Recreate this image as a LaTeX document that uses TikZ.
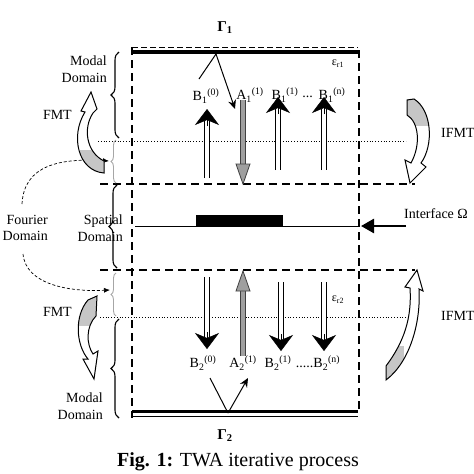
\documentclass[tikz,border=0pt]{standalone}
\usepackage{fontspec}
\setmainfont{Liberation Serif}
\usetikzlibrary{arrows.meta,decorations.pathreplacing,calc}
\begin{document}
\begin{tikzpicture}[x=1pt,y=-1pt,
  lbl/.style={font=\fontsize{14}{16.5}\selectfont, inner sep=0pt},
  sym/.style={font=\fontsize{14}{16}\selectfont, inner sep=0pt},
  eps/.style={font=\fontsize{12}{14}\selectfont, inner sep=0pt},
  dside/.style={align=right, anchor=east},
  bound/.style={dash pattern=on 8pt off 5pt, line width=1.1pt},
  dotl/.style={dash pattern=on 1pt off 1.8pt, line width=0.9pt},
  dbl/.style={double, double distance=3.6pt, line width=1pt},
  bighead/.style={-{Stealth[length=16pt,width=24pt,inset=5pt]}, line width=0.5pt},
  grayshaft/.style={draw=black!75, double=gray!75, double distance=4.5pt, line width=0.8pt},
  grayhead/.style={draw=black!75, fill=gray!75, line width=0.8pt},
  brc/.style={decorate, decoration={brace, amplitude=8pt}, line width=1.1pt},
  gbrc/.style={decorate, decoration={brace, amplitude=5pt}, draw=gray!70, line width=0.9pt},
  fdash/.style={dash pattern=on 3pt off 2pt, line width=0.7pt, -{Latex[length=6pt,width=5pt]}},
  gam/.style={line width=1pt},
  gamarr/.style={line width=1pt, -{Stealth[length=9pt,width=8pt]}}
]
\useasboundingbox (0,0) rectangle (474,474);

% ---------- frame ----------
\draw[line width=4pt] (132,52) -- (358,52);
\draw[dash pattern=on 6pt off 3pt, line width=0.8pt] (132,47.5) -- (358,47.5);
\draw[line width=3.5pt] (132,411.5) -- (358,411.5);
\draw[line width=0.8pt] (132,416.5) -- (358,416.5);
\draw[bound] (132,47) -- (132,418);
\draw[bound] (359,50) -- (359,410);
\draw[bound] (100,184) -- (415,184);
\draw[bound] (100,270) -- (415,270);
\draw[dotl] (98,141) -- (406,141);
\draw[dotl] (100,317) -- (406,317);

% interface
\draw[line width=0.8pt] (135,226) -- (359,226);
\fill (196,215) rectangle (283,226.4);
\coordinate (ifs) at (406,226);
\coordinate (ift) at (361,226);
\draw[line width=2.6pt, -{Triangle[length=13pt,width=14pt]}] (ifs) -- (ift);

% ---------- labels ----------
\node[font=\bfseries\fontsize{15}{17}\selectfont, inner sep=0pt] (g1) at (225,28) {Γ\textsubscript{1}};
\node[font=\bfseries\fontsize{15}{17}\selectfont, inner sep=0pt] (g2) at (225,436) {Γ\textsubscript{2}};
\node[eps] (e1) at (338,64) {ε\textsubscript{r1}};
\node[eps] (e2) at (338,300) {ε\textsubscript{r2}};

\node[lbl, dside] (md1) at (107,69) {Modal\\Domain};
\node[lbl, dside] (fmt1) at (72,115) {FMT};
\node[lbl, dside] (four) at (48,228) {Fourier\\Domain};
\node[lbl, dside] (spat) at (123,228) {Spatial\\Domain};
\node[lbl, dside] (fmt2) at (72,312) {FMT};
\node[lbl, dside] (md2) at (103,406) {Modal\\Domain};
\node[lbl, anchor=west] (ifmt1) at (441,133) {IFMT};
\node[lbl, anchor=west] (ifmt2) at (441,316) {IFMT};
\node[lbl, anchor=west] (intf) at (404,214) {Interface Ω};

\node[sym] (lb10) at (206,96) {B\textsubscript{1}\textsuperscript{(0)}};
\node[sym] (la11) at (250,95) {A\textsubscript{1}\textsuperscript{(1)}};
\node[sym] (lb11) at (285,95) {B\textsubscript{1}\textsuperscript{(1)}};
\node[sym] (ldot) at (307.5,97) {...};
\node[sym] (lb1n) at (332,95) {B\textsubscript{1}\textsuperscript{(n)}};

\node[sym] (lb20) at (203,363) {B\textsubscript{2}\textsuperscript{(0)}};
\node[sym] (la21) at (243,363) {A\textsubscript{2}\textsuperscript{(1)}};
\node[sym] (lb21) at (278,363) {B\textsubscript{2}\textsuperscript{(1)}};
\node[sym] (lb2n) at (318,363) {.....B\textsubscript{2}\textsuperscript{(n)}};

\node[font=\fontsize{20}{24}\selectfont, inner sep=0pt] (cap) at (238,462) {\textbf{Fig. 1:} TWA iterative process};

% ---------- braces ----------
\draw[brc] (119,138) -- (119,52);
\draw[gbrc] (116,183) -- (116,140);
\draw[brc] (117,268) -- (117,185);
\draw[gbrc] (116,316) -- (116,273);
\draw[brc] (119,418) -- (119,319);

% ---------- Fourier dashed arrows ----------
\coordinate (fa1) at (22,204);
\coordinate (fb1) at (109,161);
\coordinate (fa2) at (23,254);
\coordinate (fb2) at (110,290);
\draw[fdash] (fa1) .. controls (24,165) and (60,158) .. (fb1);
\draw[fdash] (fa2) .. controls (26,285) and (70,292) .. (fb2);

% ---------- curved block arrows ----------
\def\pFMTa{(104,173) .. controls (78,171) and (70,136) .. (85,112) -- (81,111) -- (91,92) -- (97,109) -- (93,113) .. controls (83,128) and (86,152) .. (104,161) -- cycle}
\def\pFMTb{(88,300) -- (97,296) -- (96,316) .. controls (86,326) and (86,344) .. (93,354) -- (98,351) -- (94,379) -- (83,359) -- (88,359) .. controls (76,345) and (74,316) .. (88,300) -- cycle}
\def\pIFMa{(407,100) -- (414,99) .. controls (432,110) and (434,145) .. (421,163) -- (426,167) -- (410,183) -- (405,160) -- (411,163) .. controls (421,145) and (419,122) .. (407,115) -- cycle}
\def\pIFMb{(386,380) .. controls (410,362) and (421,322) .. (419,289) -- (423,291) -- (417,270) -- (405,287) -- (410,288) .. controls (412,318) and (404,342) .. (386,366) -- cycle}

\fill[white] \pFMTa;
\begin{scope}\clip \pFMTa; \fill[gray!45] (80,150) rectangle (110,180);\end{scope}
\draw[line width=1pt] \pFMTa;

\fill[white] \pFMTb;
\begin{scope}\clip \pFMTb; \fill[gray!45] (70,290) rectangle (105,326);\end{scope}
\draw[line width=1pt] \pFMTb;

\fill[white] \pIFMa;
\begin{scope}\clip \pIFMa; \fill[gray!45] (400,95) rectangle (440,126);\end{scope}
\draw[line width=1pt] \pIFMa;

\fill[white] \pIFMb;
\begin{scope}\clip \pIFMb; \fill[gray!45] (380,346) rectangle (404,385);\end{scope}
\draw[line width=1pt] \pIFMb;

% ---------- vertical wave arrows, upper half ----------
\coordinate (b10s) at (207,178); \coordinate (b10t) at (207,109);
\draw[dbl] (b10s) -- ($(b10t)+(0,12)$);
\draw[bighead] ($(b10t)+(0,17)$) -- (b10t);

\coordinate (b11s) at (278,170); \coordinate (b11t) at (278,97);
\draw[dbl] (b11s) -- ($(b11t)+(0,12)$);
\draw[bighead] ($(b11t)+(0,17)$) -- (b11t);

\coordinate (b1ns) at (324,170); \coordinate (b1nt) at (324,97);
\draw[dbl] (b1ns) -- ($(b1nt)+(0,12)$);
\draw[bighead] ($(b1nt)+(0,17)$) -- (b1nt);

\coordinate (a11s) at (243,100); \coordinate (a11t) at (243,184);
\draw[grayshaft] (a11s) -- ($(a11t)+(0,-18)$);
\filldraw[grayhead] ($(a11t)+(-7,-20)$) -- ($(a11t)+(7,-20)$) -- (a11t) -- cycle;

% ---------- vertical wave arrows, lower half ----------
\coordinate (b20s) at (207,277); \coordinate (b20t) at (207,349);
\draw[dbl] (b20s) -- ($(b20t)+(0,-12)$);
\draw[bighead] ($(b20t)+(0,-17)$) -- (b20t);

\coordinate (b21s) at (281,282); \coordinate (b21t) at (281,351);
\draw[dbl] (b21s) -- ($(b21t)+(0,-12)$);
\draw[bighead] ($(b21t)+(0,-17)$) -- (b21t);

\coordinate (b2ns) at (324,282); \coordinate (b2nt) at (324,351);
\draw[dbl] (b2ns) -- ($(b2nt)+(0,-12)$);
\draw[bighead] ($(b2nt)+(0,-17)$) -- (b2nt);

\coordinate (a21s) at (243,356); \coordinate (a21t) at (243,271);
\draw[grayshaft] (a21s) -- ($(a21t)+(0,18)$);
\filldraw[grayhead] ($(a21t)+(-7,20)$) -- ($(a21t)+(7,20)$) -- (a21t) -- cycle;

% ---------- reflections at the walls ----------
\coordinate (g1p) at (216,54);
\coordinate (g1l) at (199,79);
\coordinate (g1r) at (235,109);
\draw[gam] (g1p) -- (g1l);
\draw[gamarr] (g1p) -- (g1r);

\coordinate (g2p) at (228,413);
\coordinate (g2l) at (210,378);
\coordinate (g2r) at (248,378);
\draw[gam] (g2p) -- (g2l);
\draw[gamarr] (g2p) -- (g2r);
\end{tikzpicture}
\end{document}
